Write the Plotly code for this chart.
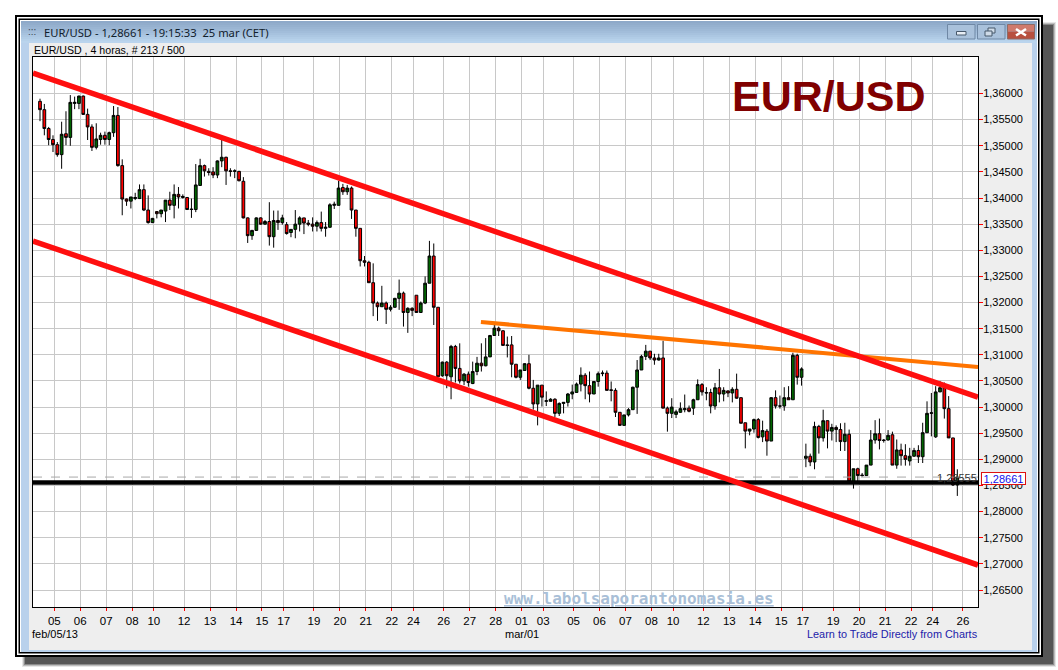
import plotly.graph_objects as go

W, H = 1058, 670

opens = [
 1.3585,1.3569,1.3533,1.3512,1.3502,1.3483,1.3523,1.3516,1.3581,1.3581,
 1.3595,1.3560,1.3536,1.3497,1.3512,1.3520,1.3512,1.3525,1.3558,1.3462,
 1.3398,1.3394,1.3399,1.3399,1.3416,1.3377,1.3353,1.3374,1.3370,1.3375,
 1.3396,1.3386,1.3407,1.3401,1.3401,1.3379,1.3378,1.3424,1.3462,1.3451,
 1.3450,1.3444,1.3471,1.3478,1.3452,1.3451,1.3451,1.3432,1.3362,1.3328,
 1.3338,1.3362,1.3350,1.3355,1.3326,1.3357,1.3353,1.3349,1.3334,1.3340,
 1.3350,1.3362,1.3352,1.3350,1.3346,1.3353,1.3342,1.3344,1.3386,1.3386,
 1.3420,1.3412,1.3419,1.3377,1.3342,1.3280,1.3277,1.3238,1.3199,1.3192,
 1.3199,1.3187,1.3191,1.3208,1.3218,1.3181,1.3189,1.3214,1.3181,1.3199,
 1.3237,1.3289,1.3191,1.3060,1.3086,1.3058,1.3116,1.3074,1.3050,1.3063,
 1.3045,1.3068,1.3084,1.3079,1.3096,1.3137,1.3151,1.3146,1.3119,1.3119,
 1.3082,1.3057,1.3070,1.3083,1.3036,1.3006,1.3042,1.3011,1.3011,1.3015,
 1.2988,1.3007,1.3009,1.3025,1.3028,1.3044,1.3061,1.3041,1.3025,1.3049,
 1.3064,1.3065,1.3033,1.3032,1.2990,1.2965,1.2985,1.2995,1.3038,1.3071,
 1.3097,1.3107,1.3094,1.3090,1.3094,1.2998,1.2988,1.2986,1.2990,1.2995,
 1.2998,1.2998,1.3014,1.3043,1.3028,1.3028,1.3002,1.3037,1.3025,1.3031,
 1.3027,1.3034,1.3018,1.2970,1.2954,1.2958,1.2976,1.2943,1.2954,1.2935,
 1.3018,1.3002,1.3002,1.3018,1.3014,1.3099,1.3057,1.2902,1.2906,1.2895,
 1.2963,1.2941,1.2974,1.2954,1.2961,1.2957,1.2934,1.2948,1.2858,1.2882,
 1.2870,1.2869,1.2889,1.2937,1.2949,1.2937,1.2937,1.2947,1.2889,1.2918,
 1.2907,1.2897,1.2906,1.2917,1.2905,1.2951,1.2988,1.2943,1.3029,1.3037,
 1.2997,1.2941,1.2851]
closes = [
 1.3569,1.3533,1.3512,1.3502,1.3483,1.3522,1.3516,1.3583,1.3583,1.3595,
 1.3560,1.3536,1.3497,1.3513,1.3520,1.3512,1.3525,1.3558,1.3462,1.3398,
 1.3394,1.3402,1.3401,1.3416,1.3377,1.3353,1.3361,1.3370,1.3377,1.3396,
 1.3386,1.3407,1.3402,1.3403,1.3378,1.3378,1.3425,1.3462,1.3452,1.3449,
 1.3444,1.3471,1.3478,1.3452,1.3451,1.3452,1.3433,1.3362,1.3328,1.3338,
 1.3362,1.3350,1.3355,1.3326,1.3357,1.3353,1.3362,1.3332,1.3340,1.3350,
 1.3362,1.3352,1.3350,1.3346,1.3353,1.3342,1.3344,1.3387,1.3388,1.3419,
 1.3412,1.3419,1.3377,1.3342,1.3280,1.3277,1.3238,1.3199,1.3192,1.3199,
 1.3187,1.3191,1.3208,1.3218,1.3181,1.3189,1.3185,1.3181,1.3199,1.3237,
 1.3289,1.3191,1.3058,1.3086,1.3060,1.3116,1.3074,1.3050,1.3063,1.3047,
 1.3068,1.3084,1.3079,1.3096,1.3137,1.3151,1.3146,1.3118,1.3118,1.3082,
 1.3057,1.3071,1.3083,1.3036,1.3006,1.3042,1.3019,1.3012,1.3015,1.2988,
 1.3007,1.3009,1.3025,1.3029,1.3044,1.3061,1.3041,1.3025,1.3049,1.3064,
 1.3065,1.3032,1.3032,1.2990,1.2965,1.2985,1.2995,1.3038,1.3071,1.3097,
 1.3107,1.3094,1.3090,1.3094,1.2998,1.2988,1.3000,1.2991,1.2997,1.2997,
 1.2992,1.3014,1.3043,1.3029,1.3027,1.3002,1.3037,1.3025,1.3032,1.3027,
 1.3034,1.3017,1.2969,1.2954,1.2958,1.2976,1.2942,1.2955,1.2935,1.3018,
 1.3002,1.3002,1.3018,1.3014,1.3099,1.3057,1.3073,1.2906,1.2895,1.2963,
 1.2941,1.2974,1.2954,1.2961,1.2957,1.2934,1.2948,1.2858,1.2882,1.2869,
 1.2869,1.2889,1.2937,1.2949,1.2936,1.2936,1.2946,1.2889,1.2918,1.2907,
 1.2900,1.2906,1.2917,1.2905,1.2951,1.2988,1.2989,1.3029,1.3037,1.2997,
 1.2941,1.2851,1.28661]
highs = [
 1.3590,1.3580,1.3536,1.3520,1.3507,1.3546,1.3566,1.3597,1.3594,1.3596,
 1.3596,1.3571,1.3541,1.3543,1.3525,1.3527,1.3527,1.3576,1.3574,1.3474,
 1.3399,1.3402,1.3410,1.3426,1.3426,1.3405,1.3362,1.3375,1.3377,1.3396,
 1.3412,1.3426,1.3421,1.3407,1.3402,1.3399,1.3465,1.3475,1.3464,1.3457,
 1.3459,1.3472,1.3511,1.3479,1.3457,1.3455,1.3452,1.3440,1.3363,1.3339,
 1.3363,1.3363,1.3358,1.3392,1.3376,1.3376,1.3368,1.3354,1.3340,1.3377,
 1.3365,1.3362,1.3358,1.3363,1.3357,1.3374,1.3354,1.3390,1.3393,1.3433,
 1.3427,1.3425,1.3422,1.3377,1.3342,1.3289,1.3280,1.3275,1.3202,1.3232,
 1.3202,1.3195,1.3209,1.3244,1.3221,1.3191,1.3191,1.3214,1.3202,1.3250,
 1.3318,1.3313,1.3191,1.3087,1.3088,1.3119,1.3119,1.3122,1.3065,1.3068,
 1.3087,1.3096,1.3122,1.3132,1.3138,1.3157,1.3154,1.3147,1.3135,1.3136,
 1.3082,1.3071,1.3084,1.3100,1.3052,1.3042,1.3042,1.3030,1.3017,1.3017,
 1.3009,1.3009,1.3027,1.3043,1.3047,1.3076,1.3065,1.3068,1.3049,1.3068,
 1.3070,1.3070,1.3049,1.3036,1.2990,1.2985,1.2998,1.3039,1.3090,1.3100,
 1.3119,1.3107,1.3102,1.3102,1.3127,1.3001,1.3017,1.2995,1.3009,1.3024,
 1.3003,1.3016,1.3053,1.3046,1.3038,1.3035,1.3046,1.3073,1.3038,1.3032,
 1.3038,1.3064,1.3018,1.2970,1.2958,1.2978,1.2979,1.2974,1.2958,1.3019,
 1.3032,1.3022,1.3038,1.3040,1.3104,1.3102,1.3076,1.2930,1.2911,1.2972,
 1.2966,1.2995,1.2974,1.2968,1.2965,1.2969,1.2970,1.2957,1.2882,1.2884,
 1.2874,1.2889,1.2956,1.2975,1.2978,1.2939,1.2956,1.2953,1.2938,1.2930,
 1.2929,1.2922,1.2922,1.2927,1.2970,1.3011,1.3027,1.3040,1.3050,1.3047,
 1.3021,1.2941,1.2881]
lows = [
 1.3547,1.3520,1.3501,1.3488,1.3479,1.3456,1.3501,1.3500,1.3570,1.3570,
 1.3559,1.3511,1.3490,1.3493,1.3502,1.3502,1.3501,1.3517,1.3460,1.3367,
 1.3385,1.3380,1.3396,1.3398,1.3375,1.3351,1.3352,1.3361,1.3363,1.3354,
 1.3377,1.3361,1.3380,1.3399,1.3377,1.3362,1.3373,1.3423,1.3441,1.3443,
 1.3438,1.3438,1.3459,1.3425,1.3441,1.3438,1.3432,1.3361,1.3314,1.3320,
 1.3337,1.3349,1.3349,1.3309,1.3305,1.3339,1.3349,1.3330,1.3325,1.3323,
 1.3336,1.3331,1.3346,1.3336,1.3336,1.3336,1.3326,1.3343,1.3379,1.3386,
 1.3406,1.3406,1.3360,1.3326,1.3269,1.3269,1.3238,1.3174,1.3165,1.3192,
 1.3159,1.3183,1.3190,1.3186,1.3154,1.3142,1.3174,1.3181,1.3180,1.3197,
 1.3237,1.3157,1.3058,1.3058,1.3036,1.3015,1.3047,1.3045,1.3042,1.3039,
 1.3044,1.3061,1.3068,1.3078,1.3096,1.3136,1.3136,1.3118,1.3095,1.3057,
 1.3055,1.3052,1.3070,1.3034,1.2995,1.2965,1.3001,1.3002,1.3011,1.2981,
 1.2983,1.2988,1.3001,1.3015,1.3028,1.3030,1.3015,1.3009,1.3025,1.3039,
 1.3059,1.3032,1.3011,1.2981,1.2964,1.2964,1.2982,1.2995,1.2987,1.3071,
 1.3090,1.3090,1.3081,1.3089,1.2998,1.2953,1.2979,1.2979,1.2989,1.2990,
 1.2990,1.2985,1.3014,1.3022,1.3013,1.2988,1.2995,1.3009,1.3011,1.3019,
 1.3009,1.3016,1.2969,1.2921,1.2946,1.2951,1.2940,1.2933,1.2907,1.2935,
 1.2997,1.2997,1.2993,1.3014,1.3014,1.3043,1.3041,1.2885,1.2887,1.2881,
 1.2911,1.2934,1.2921,1.2936,1.2933,1.2916,1.2916,1.2856,1.2844,1.2858,
 1.2867,1.2869,1.2889,1.2930,1.2919,1.2932,1.2936,1.2889,1.2882,1.2888,
 1.2888,1.2888,1.2905,1.2893,1.2893,1.2951,1.2944,1.2941,1.3029,1.2978,
 1.2941,1.2849,1.2830]
bars = list(range(len(opens)))

x_tick_vals = [3.3,9.3,15.3,21.3,26.3,33.3,39.3,45.3,51.3,56.3,63.3,69.3,75.3,81.3,86.3,93.3,99.3,105.3,
               111.3,116.3,123.3,129.3,135.3,141.3,146.3,153.3,159.3,165.3,171.3,176.3,183.3,189.3,195.3,201.3,206.3,213.3]
x_tick_text = ["05","06","07","08","10","12","13","14","15","17","19","20","21","22","24","26","27","28",
               "01","03","05","06","07","08","10","12","13","14","15","17","19","20","21","22","24","26"]
y_tick_vals = [1.265,1.27,1.275,1.28,1.285,1.29,1.295,1.30,1.305,1.31,1.315,1.32,1.325,1.33,1.335,1.34,1.345,1.35,1.355,1.36]
y_tick_text = ["1,26500","1,27000","1,27500","1,28000","1,28500","1,29000","1,29500","1,30000","1,30500","1,31000",
               "1,31500","1,32000","1,32500","1,33000","1,33500","1,34000","1,34500","1,35000","1,35500","1,36000"]

x_range = [-1.62, 216.78]
y_range = [1.26175, 1.36698]

upper_channel_x, upper_channel_y = [-1.62, 216.78], [1.36392, 1.30192]
lower_channel_x, lower_channel_y = [-1.62, 216.78], [1.33178, 1.26978]
orange_x, orange_y = [101.9, 216.78], [1.31628, 1.30767]
support_level = 1.28555
last_price = 1.28661

BLUE = "#b9d1ec"
PANEL = "#eeeeee"
GRID = "#c8c8c8"
TXT = "Liberation Sans"

def px(v): return v / W
def py(v): return 1 - v / H

def rect(x0, y0, x1, y1, fill, line=None, lw=1):
    return dict(type="rect", xref="paper", yref="paper", layer="below",
                x0=px(x0), x1=px(x1), y0=py(y0), y1=py(y1), fillcolor=fill,
                line=dict(color=line, width=lw) if line else dict(width=0))

def seg(x0, y0, x1, y1, color, lw=1.0):
    return dict(type="line", xref="paper", yref="paper", layer="above",
                x0=px(x0), x1=px(x1), y0=py(y0), y1=py(y1), line=dict(color=color, width=lw))

def note(x, y, text, size=11, color="#000000", family=TXT, xa="left", ya="middle", **kw):
    return dict(xref="paper", yref="paper", x=px(x), y=py(y), text=text, showarrow=False,
                xanchor=xa, yanchor=ya, borderpad=0, font=dict(size=size, color=color, family=family), **kw)

shapes = []
for d, c in [(3, "#e6e6e6"), (2, "#bdbdbd"), (1, "#8a8a8a"), (0, "#555555")]:
    shapes.append(rect(25 - d, 25 - d, 1053 + d, 664 + d, c))
shapes += [rect(15, 15, 1043, 657, "#000000"), rect(17, 17, 1041, 655, "#ffffff"),
           rect(18.5, 18.5, 1039.5, 653.5, "#000000"), rect(20, 20, 1038, 652, "#ffffff"),
           rect(21, 21, 1037, 652, BLUE)]
tops = ["#8ea9c9", "#92adcc", "#96b1cf", "#9ab5d3", "#9eb9d6", "#a2bdda", "#a7c2de", "#acc7e2", "#b1cce6", "#b6d1ea", "#bad4ed"]
for k, c in enumerate(tops):
    shapes.append(rect(21, 21 + 2 * k, 1037, 23 + 2 * k, c))
shapes.append(rect(29, 43, 1032, 650, PANEL))
shapes.append(rect(33, 57, 978, 607, "#ffffff"))
shapes += [rect(947.5, 24.5, 975, 39, "#a9c1db", "#6f88a5"), rect(977.5, 24.5, 1005, 39, "#a9c1db", "#6f88a5"),
           rect(1007.5, 24.5, 1034.5, 31.5, "#cf7a6c"), rect(1007.5, 31.5, 1034.5, 39, "#b8503f"),
           rect(1007.5, 24.5, 1034.5, 39, "rgba(0,0,0,0)", "#8d6b66"),
           rect(956.5, 31.5, 966, 35, "#e8eef5", "#47586b"),
           rect(988, 28, 995, 33, "#cfdbe8", "#47586b"), rect(985, 31, 992, 36, "#cfdbe8", "#47586b")]
shapes += [seg(1016, 29, 1026, 35.5, "#ffffff", 2.5), seg(1016, 35.5, 1026, 29, "#ffffff", 2.5)]

fig = go.Figure()
fig.add_trace(go.Candlestick(
    x=bars, open=opens, high=highs, low=lows, close=closes,
    increasing=dict(fillcolor="#006400", line=dict(color="#000000", width=1)),
    decreasing=dict(fillcolor="#ff0000", line=dict(color="#000000", width=1)),
    whiskerwidth=0, showlegend=False, hoverinfo="skip"))
fig.add_trace(go.Scatter(x=x_range, y=[last_price, last_price], mode="lines",
                         line=dict(color="#a8a8a8", width=1, dash="dash"), showlegend=False, hoverinfo="skip"))
fig.add_trace(go.Scatter(x=x_range, y=[support_level, support_level], mode="lines",
                         line=dict(color="#000000", width=4.5), showlegend=False, hoverinfo="skip"))
fig.add_trace(go.Scatter(x=orange_x, y=orange_y, mode="lines",
                         line=dict(color="#ff7400", width=4), showlegend=False, hoverinfo="skip"))
fig.add_trace(go.Scatter(x=upper_channel_x, y=upper_channel_y, mode="lines",
                         line=dict(color="#ff0f0f", width=5.5), showlegend=False, hoverinfo="skip"))
fig.add_trace(go.Scatter(x=lower_channel_x, y=lower_channel_y, mode="lines",
                         line=dict(color="#ff0f0f", width=5.5), showlegend=False, hoverinfo="skip"))

annotations = [
    note(27, 31.5, ":::", size=10, color="#3c4650"),
    note(43, 32.5, "EUR/USD - 1,28661 - 19:15:33\u00a0\u00a025 mar (CET)", size=11.2, family="Noto Sans", color="#10202c"),
    note(32.5, 50, "EUR/USD , 4 horas, # 213 / 500", size=10.6),
    note(30.5, 634, "feb/05/13", size=11),
    note(503.5, 634, "mar/01", size=11),
    note(978.5, 634, "Learn to Trade Directly from Charts", size=10.9, color="#2222aa", xa="right"),
    note(503, 598.5, "<b><u>www.labolsaporantonomasia.es</u></b>", size=16, color="#a9bfd7", family="DejaVu Sans Mono"),
    note(978, 477.5, "1,28555", size=11, color="#333333", xa="right"),
    note(731, 96, "<b>EUR/USD</b>", size=43, color="#800000", family=TXT),
    dict(xref="paper", yref="paper", x=px(1003.5), y=py(478), text="1,28661", showarrow=False,
         xanchor="center", yanchor="middle", bgcolor="#ffffff", bordercolor="#dd1111", borderwidth=1,
         borderpad=0, width=43, height=11, font=dict(size=11, color="#1111ee", family=TXT)),
]

fig.update_layout(
    width=W, height=H, autosize=False,
    margin=dict(l=0, r=0, t=0, b=0, pad=0),
    paper_bgcolor="#ffffff", plot_bgcolor="rgba(0,0,0,0)", boxgap=0.1,
    shapes=shapes, annotations=annotations, showlegend=False,
    xaxis=dict(domain=[33 / W, 978 / W], range=x_range, type="linear", fixedrange=True,
               rangeslider=dict(visible=False),
               tickmode="array", tickvals=x_tick_vals, ticktext=x_tick_text,
               ticks="outside", ticklen=3, tickwidth=1, tickcolor="#ff0000",
               showgrid=True, gridcolor=GRID, gridwidth=1, zeroline=False,
               showline=True, linecolor="#000000", linewidth=1, mirror=True,
               tickfont=dict(size=11.5, family=TXT, color="#000000")),
    yaxis=dict(domain=[1 - 607 / H, 1 - 57 / H], range=y_range, side="right", fixedrange=True,
               tickmode="array", tickvals=y_tick_vals, ticktext=y_tick_text,
               ticks="outside", ticklen=4, tickwidth=1, tickcolor="#ff0000", ticklabelstandoff=-2,
               showgrid=True, gridcolor=GRID, gridwidth=1, zeroline=False,
               showline=True, linecolor="#000000", linewidth=1, mirror=True,
               tickfont=dict(size=11, family=TXT, color="#000000")),
)

fig.write_html("out.html", config=dict(displayModeBar=False, responsive=False),
               post_script="document.body.style.margin='0';document.body.style.overflow='hidden';")
